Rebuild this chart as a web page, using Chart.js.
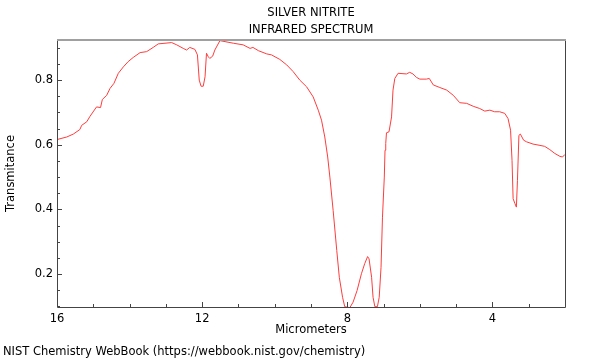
<!DOCTYPE html>
<html>
<head>
<meta charset="utf-8">
<script src="https://cdn.jsdelivr.net/npm/chart.js@4/dist/chart.umd.min.js"></script>
<style>
  body { margin: 0; background: #fff; }
  #wrap { width: 600px; height: 360px; }
</style>
</head>
<body>
<div id="wrap"><canvas id="irChart" width="600" height="360"></canvas></div>
<script>
// spectrum (micrometers, transmittance)
const wavelength = [
  16.00, 15.73, 15.55, 15.37, 15.32, 15.18, 15.09, 14.91, 14.80, 14.75,
  14.63, 14.54, 14.43, 14.31, 14.17, 14.04, 13.90, 13.71, 13.53, 13.35,
  13.21, 12.84, 12.70, 12.52, 12.43, 12.34, 12.20, 12.13, 12.08, 12.03,
  11.97, 11.92, 11.88, 11.83, 11.79, 11.71, 11.65, 11.51, 11.37, 11.14,
  10.87, 10.68, 10.60, 10.45, 10.22, 10.09, 9.86, 9.67, 9.49, 9.31,
  9.12, 8.94, 8.80, 8.71, 8.62, 8.54, 8.48, 8.39, 8.29, 8.22,
  8.13, 8.07, 7.93, 7.84, 7.73, 7.61, 7.52, 7.44, 7.40, 7.33,
  7.29, 7.24, 7.17, 7.12, 7.07, 7.03, 6.98, 6.96, 6.94, 6.92,
  6.85, 6.78, 6.74, 6.69, 6.60, 6.37, 6.28, 6.19, 6.09, 6.00,
  5.82, 5.74, 5.63, 5.45, 5.26, 5.08, 4.90, 4.71, 4.53, 4.35,
  4.21, 4.07, 3.94, 3.80, 3.66, 3.57, 3.50, 3.46, 3.43, 3.38,
  3.34, 3.31, 3.27, 3.23, 3.14, 3.06, 2.88, 2.69, 2.56, 2.42,
  2.28, 2.14, 2.07, 2.00
];
const transmittance = [
  0.616, 0.624, 0.633, 0.647, 0.660, 0.671, 0.688, 0.717, 0.715, 0.740,
  0.753, 0.774, 0.790, 0.821, 0.841, 0.857, 0.870, 0.885, 0.888, 0.901,
  0.912, 0.916, 0.909, 0.898, 0.893, 0.901, 0.895, 0.878, 0.800, 0.781,
  0.781, 0.810, 0.883, 0.872, 0.867, 0.874, 0.893, 0.922, 0.919, 0.914,
  0.909, 0.898, 0.901, 0.891, 0.881, 0.878, 0.864, 0.847, 0.826, 0.800,
  0.779, 0.748, 0.707, 0.676, 0.624, 0.562, 0.500, 0.397, 0.273, 0.190,
  0.128, 0.099, 0.096, 0.113, 0.149, 0.201, 0.232, 0.254, 0.247, 0.190,
  0.128, 0.099, 0.099, 0.128, 0.221, 0.376, 0.500, 0.583, 0.604, 0.637,
  0.640, 0.686, 0.769, 0.805, 0.821, 0.819, 0.824, 0.819, 0.808, 0.803,
  0.803, 0.805, 0.785, 0.777, 0.769, 0.753, 0.730, 0.728, 0.719, 0.712,
  0.704, 0.707, 0.702, 0.702, 0.697, 0.681, 0.645, 0.552, 0.433, 0.418,
  0.407, 0.490, 0.629, 0.633, 0.614, 0.609, 0.602, 0.598, 0.595, 0.585,
  0.573, 0.564, 0.562, 0.570
];

const xMajor = [16, 12, 8, 4];
const xMinor = [16, 15, 14, 13, 12, 11, 10, 9, 8, 7, 6, 5, 4, 3, 2];
const yMajor = [0.2, 0.4, 0.6, 0.8];
const yMinor = [0.1, 0.15, 0.2, 0.25, 0.3, 0.35, 0.4, 0.45, 0.5, 0.55, 0.6, 0.65, 0.7, 0.75, 0.8, 0.85, 0.9];

const titleLines = ['SILVER NITRITE', 'INFRARED SPECTRUM'];
const footerText = 'NIST Chemistry WebBook (https://webbook.nist.gov/chemistry)';

const FONT = 'DejaVu Sans';
const FSIZE = 11.5;

// frame, inward ticks, title and footer
const decorations = {
  id: 'decorations',
  afterDraw(chart) {
    const { ctx, chartArea: a, scales: { x, y } } = chart;
    ctx.save();

    ctx.strokeStyle = '#444';
    ctx.lineWidth = 1;
    ctx.beginPath();
    for (const v of xMinor) {
      const px = Math.round(x.getPixelForValue(v)) + 0.5;
      const len = xMajor.includes(v) ? 5 : 3;
      ctx.moveTo(px, a.bottom);
      ctx.lineTo(px, a.bottom - len);
    }
    for (const v of yMinor) {
      const py = Math.round(y.getPixelForValue(v)) + 0.5;
      const len = yMajor.some(m => Math.abs(m - v) < 1e-6) ? 5 : 3;
      ctx.moveTo(a.left, py);
      ctx.lineTo(a.left + len, py);
    }
    ctx.stroke();

    ctx.beginPath();
    ctx.moveTo(a.left + 0.5, a.top);
    ctx.lineTo(a.left + 0.5, a.bottom + 0.5);
    ctx.lineTo(a.right + 0.5, a.bottom + 0.5);
    ctx.lineTo(a.right + 0.5, a.top);
    ctx.stroke();

    ctx.strokeStyle = '#a0a0a0';
    ctx.lineWidth = 2;
    ctx.beginPath();
    ctx.moveTo(a.left, a.top);
    ctx.lineTo(a.right + 1, a.top);
    ctx.stroke();

    ctx.fillStyle = '#000';
    ctx.font = FSIZE + 'px "' + FONT + '"';
    ctx.textAlign = 'center';
    ctx.textBaseline = 'middle';
    const cx = (a.left + a.right) / 2;
    ctx.fillText(titleLines[0], cx, 13);
    ctx.fillText(titleLines[1], cx, 30);

    ctx.textAlign = 'left';
    ctx.fillText(footerText, 3, 352);
    ctx.restore();
  }
};

const ctx = document.getElementById('irChart').getContext('2d');
new Chart(ctx, {
  type: 'line',
  data: {
    datasets: [{
      data: wavelength.map((w, i) => ({ x: w, y: transmittance[i] })),
      borderColor: 'rgb(255, 60, 60)',
      borderWidth: 1,
      pointRadius: 0,
      tension: 0,
      fill: false
    }]
  },
  options: {
    responsive: false,
    devicePixelRatio: 1,
    animation: false,
    layout: { padding: { top: 40, right: 35, bottom: 23, left: 0 } },
    plugins: {
      legend: { display: false },
      tooltip: { enabled: false },
      title: { display: false }
    },
    scales: {
      x: {
        type: 'linear',
        reverse: true,
        min: 2,
        max: 16,
        grid: { display: false, drawTicks: false },
        border: { display: false },
        afterBuildTicks: (s) => { s.ticks = xMajor.map(v => ({ value: v })); },
        afterFit: (s) => { s.height = 30; },
        ticks: {
          color: '#000',
          padding: 5,
          maxRotation: 0,
          font: { family: FONT, size: FSIZE },
          callback: (v) => String(v)
        },
        title: {
          display: true,
          text: 'Micrometers',
          color: '#000',
          padding: 0,
          font: { family: FONT, size: FSIZE }
        }
      },
      y: {
        type: 'linear',
        min: 0.098,
        max: 0.924,
        grid: { display: false, drawTicks: false },
        border: { display: false },
        afterBuildTicks: (s) => { s.ticks = yMajor.map(v => ({ value: v })); },
        afterFit: (s) => { s.width = 57; },
        ticks: {
          color: '#000',
          padding: 4,
          font: { family: FONT, size: FSIZE },
          callback: (v) => v.toFixed(1)
        },
        title: {
          display: true,
          text: 'Transmitance',
          color: '#000',
          padding: { top: 4, bottom: 0 },
          font: { family: FONT, size: FSIZE }
        }
      }
    }
  },
  plugins: [decorations]
});
</script>
</body>
</html>
